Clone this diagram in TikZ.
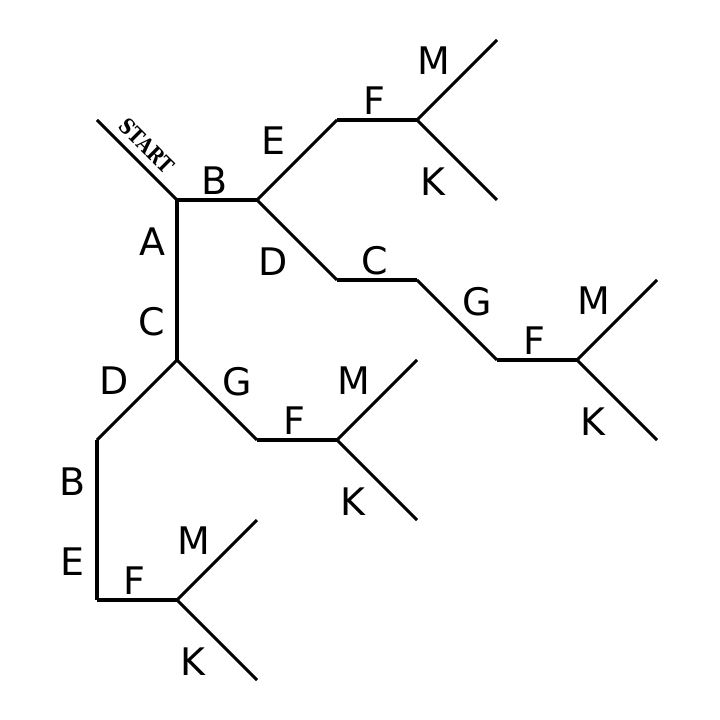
\documentclass[tikz,border=0pt]{standalone}
\usepackage{fontspec}
\setmainfont{DejaVu Sans}
\newfontfamily\startfont{DejaVu Serif}
\begin{document}
\begin{tikzpicture}
      [line width=1.1pt,
       lbl/.style={font=\fontsize{13.5pt}{16pt}\selectfont, inner sep=0pt},
       up/.style={lbl, xshift=-0.03cm, yshift=0.24cm},
       lf/.style={lbl, xshift=-0.31cm, yshift=-0.02cm},
       ul/.style={lbl, xshift=-0.29cm, yshift=0.24cm},
       dl/.style={lbl, xshift=-0.3cm, yshift=-0.27cm},
       ur/.style={lbl, xshift=0.25cm, yshift=0.23cm}]
      \useasboundingbox (-0.2125, -0.5) rectangle (8.7875, 8.5);
      \coordinate(1) at (1, 7);
      \coordinate(2) at (2, 6);
      \coordinate(3) at (2, 5);
      \coordinate(4) at (2, 4);
      \coordinate(5) at (3, 6);
      \coordinate(6) at (4, 7);
      \coordinate(7) at (5, 7);
      \coordinate(8) at (6, 8);
      \coordinate(9) at (6, 6);
      \coordinate(10) at (4, 5);
      \coordinate(11) at (5, 5);
      \coordinate(12) at (6, 4);
      \coordinate(13) at (7, 4);
      \coordinate(14) at (8, 5);
      \coordinate(15) at (8, 3);
      \coordinate(16) at (1, 3);
      \coordinate(17) at (3, 3);
      \coordinate(18) at (4, 3);
      \coordinate(19) at (5, 4);
      \coordinate(20) at (5, 2);
      \coordinate(21) at (1, 2);
      \coordinate(22) at (1, 1);
      \coordinate(23) at (2, 1);
      \coordinate(24) at (3, 2);
      \coordinate(25) at (3, 0);

      \draw(1) --node[inner sep=0pt, rotate=-45, xshift=-0.04cm, yshift=0.21cm, xscale=0.85,
            font=\startfont\bfseries\fontsize{7.6pt}{9pt}\selectfont]{START} (2);
      \draw(2) --node[lf]{A} (3);
      \draw(3) --node[lf]{C} (4);
      \draw(2) --node[up]{B} (5);

      % upper branch
      \draw(5) --node[ul]{E} (6);
      \draw(6) --node[up]{F} (7);
      \draw(7) --node[ul]{M} (8);
      \draw(7) --node[dl]{K} (9);
      \draw(5) --node[dl]{D} (10);
      \draw(10) --node[up]{C} (11);
      \draw(11) --node[ur]{G} (12);
      \draw(12) --node[up]{F} (13);
      \draw(13) --node[ul]{M} (14);
      \draw(13) --node[dl]{K} (15);

      % lower branch
      \draw(4) --node[ul]{D} (16);
      \draw(4) --node[ur]{G} (17);
      \draw(17) --node[up]{F} (18);
      \draw(18) --node[ul]{M} (19);
      \draw(18) --node[dl]{K} (20);
      \draw(16) --node[lf]{B} (21);
      \draw(21) --node[lf]{E} (22);
      \draw(22) --node[up]{F} (23);
      \draw(23) --node[ul]{M} (24);
      \draw(23) --node[dl]{K} (25);
  \end{tikzpicture}
\end{document}
